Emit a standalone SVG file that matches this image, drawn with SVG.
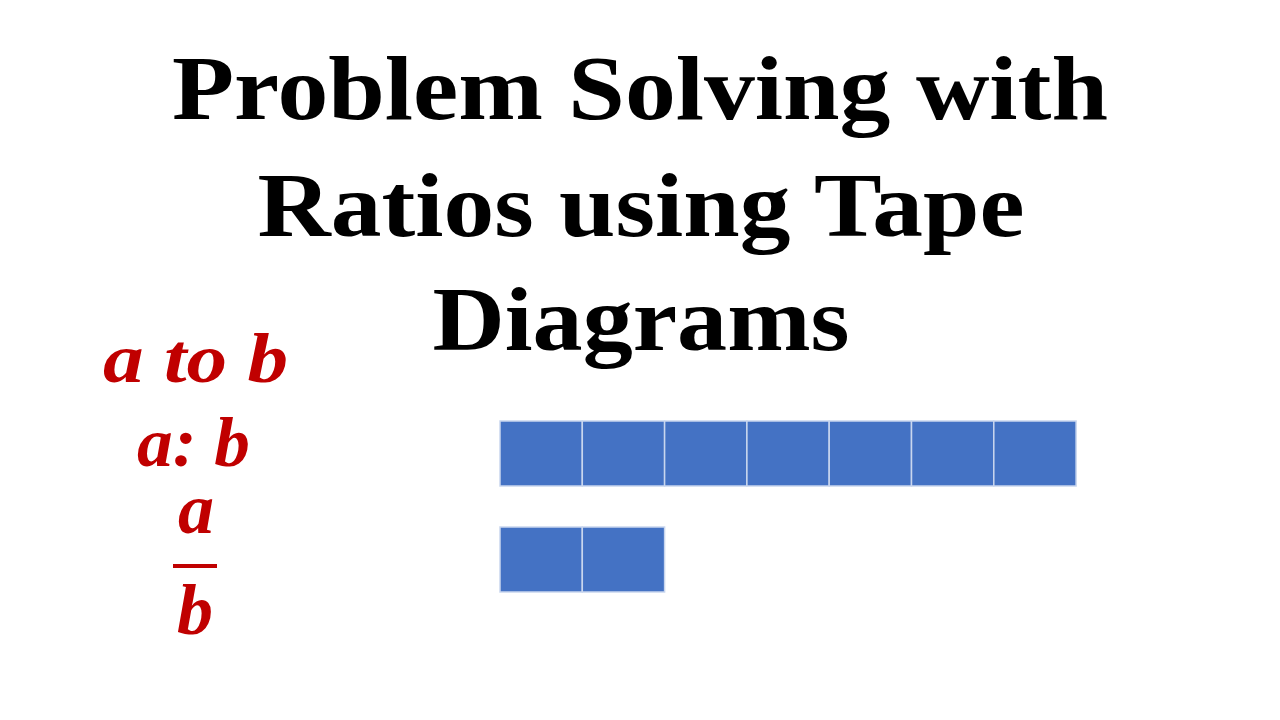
<svg xmlns="http://www.w3.org/2000/svg" width="1280" height="720" viewBox="0 0 1280 720">
<style>
.title{font-family:"Liberation Serif","Times New Roman",serif;font-weight:bold;font-size:92px;fill:#000;text-anchor:middle}
.red{font-family:"Liberation Serif","Times New Roman",serif;font-weight:bold;font-style:italic;font-size:70px;fill:#C00000}
.frac{font-size:72px;text-anchor:middle}
.cell{fill:#4472C4;stroke:#C9D6EE;stroke-width:1.5}
</style>
<rect width="1280" height="720" fill="#fff"/>
<g id="title">
<text class="title" x="640" y="119" textLength="936" lengthAdjust="spacingAndGlyphs">Problem Solving with</text>
<text class="title" x="641" y="236" textLength="767" lengthAdjust="spacingAndGlyphs">Ratios using Tape</text>
<text class="title" x="641" y="350" textLength="417" lengthAdjust="spacingAndGlyphs">Diagrams</text>
</g>
<g id="notation">
<text class="red" x="103" y="382" textLength="185" lengthAdjust="spacingAndGlyphs">a to b</text>
<text class="red" x="137" y="466" textLength="113" lengthAdjust="spacingAndGlyphs">a: b</text>
<text class="red frac" x="196" y="533">a</text>
<rect x="173" y="564" width="44" height="4" fill="#C00000"/>
<text class="red frac" x="195" y="634">b</text>
</g>
<g id="tape-a">
<rect class="cell" x="500" y="421" width="82.3" height="65"/>
<rect class="cell" x="582.3" y="421" width="82.3" height="65"/>
<rect class="cell" x="664.6" y="421" width="82.3" height="65"/>
<rect class="cell" x="746.9" y="421" width="82.3" height="65"/>
<rect class="cell" x="829.2" y="421" width="82.3" height="65"/>
<rect class="cell" x="911.5" y="421" width="82.3" height="65"/>
<rect class="cell" x="993.8" y="421" width="82.3" height="65"/>
</g>
<g id="tape-b">
<rect class="cell" x="500" y="527" width="82.3" height="65"/>
<rect class="cell" x="582.3" y="527" width="82.3" height="65"/>
</g>
<g id="connectors"/>
</svg>
